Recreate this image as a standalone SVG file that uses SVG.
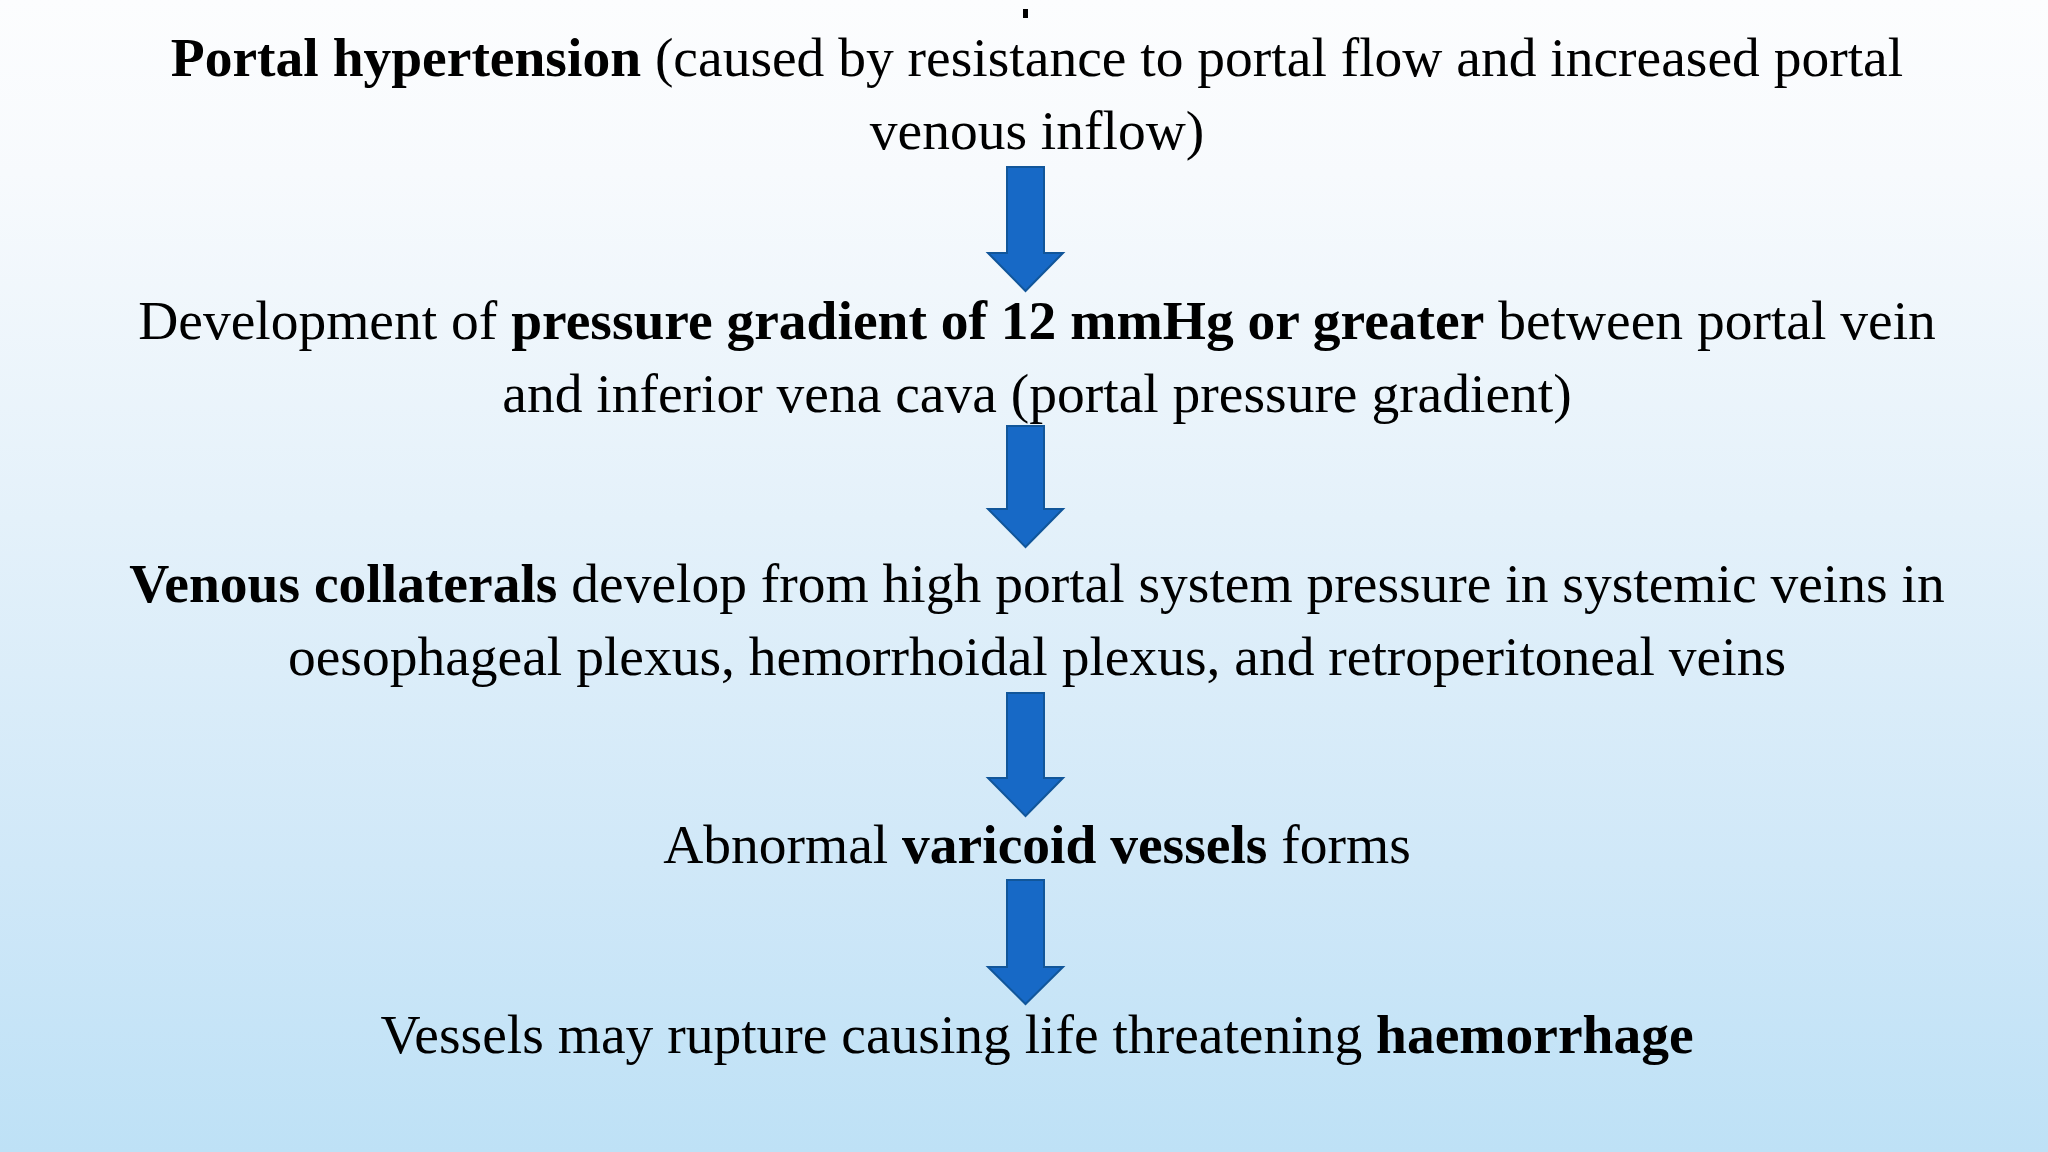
<svg xmlns="http://www.w3.org/2000/svg" width="2048" height="1152" viewBox="0 0 2048 1152">
<defs>
<linearGradient id="bg" x1="0" y1="0" x2="0" y2="1">
<stop offset="0" stop-color="#fcfdfe"/>
<stop offset="0.15" stop-color="#f7fafd"/>
<stop offset="0.45" stop-color="#e4f1fa"/>
<stop offset="0.75" stop-color="#d0e8f8"/>
<stop offset="1" stop-color="#bee1f6"/>
</linearGradient>
<style>
.t{font-family:"Liberation Serif","Times New Roman",serif;font-size:55.5px;fill:#000;text-anchor:middle}
.b{font-weight:bold}
.arr{fill:#1769c6;stroke:#11569a;stroke-width:2;stroke-linejoin:miter}
</style>
</defs>
<rect x="0" y="0" width="2048" height="1152" fill="url(#bg)"/>
<rect x="1023" y="9" width="5" height="9" fill="#000"/>
<g id="node1">
<text class="t" x="1037" y="76"><tspan class="b">Portal hypertension</tspan> (caused by resistance to portal flow and increased portal</text>
<text class="t" x="1037" y="149">venous inflow)</text>
</g>
<g id="node2">
<text class="t" x="1037" y="339">Development of <tspan class="b">pressure gradient of 12 mmHg or greater</tspan> between portal vein</text>
<text class="t" x="1037" y="412">and inferior vena cava (portal pressure gradient)</text>
</g>
<g id="node3">
<text class="t" x="1037" y="602"><tspan class="b">Venous collaterals</tspan> develop from high portal system pressure in systemic veins in</text>
<text class="t" x="1037" y="675">oesophageal plexus, hemorrhoidal plexus, and retroperitoneal veins</text>
</g>
<g id="node4">
<text class="t" x="1037" y="863">Abnormal <tspan class="b">varicoid vessels</tspan> forms</text>
</g>
<g id="node5">
<text class="t" x="1037" y="1053">Vessels may rupture causing life threatening <tspan class="b">haemorrhage</tspan></text>
</g>
<g id="connectors">
<path class="arr" d="M1007 167 H1044 V253 H1063 L1025.5 291 L988 253 H1007 Z"/>
<path class="arr" d="M1007 426 H1044 V509 H1063 L1025.5 547 L988 509 H1007 Z"/>
<path class="arr" d="M1007 693 H1044 V778 H1063 L1025.5 816 L988 778 H1007 Z"/>
<path class="arr" d="M1007 880 H1044 V967 H1063 L1025.5 1004 L988 967 H1007 Z"/>
</g>
</svg>
